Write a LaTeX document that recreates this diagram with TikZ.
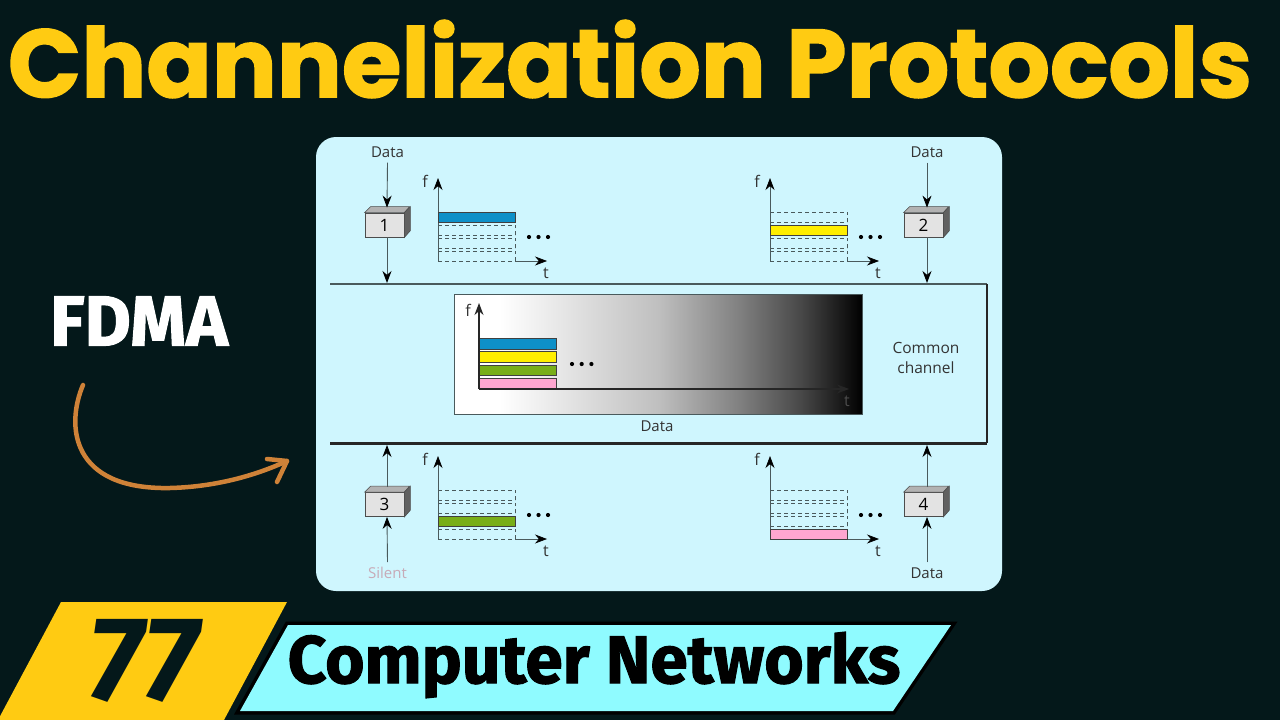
\documentclass[tikz,border=0pt]{standalone}
\usepackage{fontspec}
\setmainfont{Open Sans}
\newfontfamily\titlefont[BoldFeatures={FakeBold=1.5}]{Poppins}
\newfontfamily\bannerfont[BoldFeatures={FakeBold=1.5}]{Fira Sans}
\usepackage{xcolor}
\usetikzlibrary{calc,positioning,arrows.meta}
\definecolor{bgdark}{HTML}{04181A}
\definecolor{titleyellow}{HTML}{FFCB12}
\definecolor{panelblue}{HTML}{CFF6FE}
\definecolor{bannercyan}{HTML}{8FFBFF}
\definecolor{slotblue}{HTML}{0E90C8}
\definecolor{slotyellow}{HTML}{FFEE00}
\definecolor{slotgreen}{HTML}{78AE18}
\definecolor{slotpink}{HTML}{FFA6D0}
\definecolor{linegrey}{HTML}{4A5A5C}
\definecolor{curveorange}{HTML}{CF8238}
\pgfdeclarehorizontalshading{fadeblack}{100bp}{
  color(0bp)=(white); color(30.5bp)=(white); color(50bp)=(black!25);
  color(60bp)=(black!50); color(67.5bp)=(black!72); color(75bp)=(black); color(100bp)=(black)}
\tikzset{
  sigarrow/.style={-{Stealth[length=12pt,width=9pt,black]},line width=0.9pt,draw=linegrey},
  axisarrow/.style={-{Stealth[length=12pt,width=9pt,black]},line width=0.7pt,draw=linegrey},
  slotdash/.style={dashed,dash pattern=on 4pt off 3pt,line width=0.8pt,draw=linegrey},
  slotbar/.style={draw=black!75,line width=0.9pt},
  smalltxt/.style={font=\fontsize{15}{15}\selectfont,text=black!80,inner sep=0pt},
  axistxt/.style={font=\fontsize{16}{16}\selectfont,text=black!80,inner sep=0pt},
  stationbox/.style={draw=black!70,line width=0.8pt,fill=black!11,minimum width=39pt,minimum height=24pt,inner sep=0pt,font=\fontsize{17}{17}\selectfont}
}
% station box with its top and side faces
\newcommand{\station}[4]{
  \node[stationbox] (#1) at (#2,#3) {#4};
  \draw[draw=black!70,fill=black!30,line width=0.6pt] (#1.north west)--++(6,-6)--++(39,0)--(#1.north east)--cycle;
  \draw[draw=black!70,fill=black!62,line width=0.6pt] (#1.north east)--++(6,-6)--++(0,24)--(#1.south east)--cycle;
}
% small time/frequency chart, #1 name #2 x of axis #3 y of axis #4 colour #5 slot
\newcommand{\slotchart}[5]{
  \coordinate (#1o) at (#2,#3);
  \coordinate (#1y) at (#2,#3-83);
  \coordinate (#1x) at (#2+109,#3);
  \draw[axisarrow] (#1o) -- (#1y);
  \draw[axisarrow] ($(#1o)+(77,0)$) -- (#1x);
  \node[axistxt] (#1f) at (#2-13,#3-80) {f};
  \node[axistxt] (#1t) at (#2+108,#3+12) {t};
  \foreach \k in {0,1,2,3}{
    \draw[slotdash] ($(#1o)+(0,-10-13*\k)$) -- ++(77,0);
    \draw[slotdash] ($(#1o)+(0,-13*\k)$) -- ++(77,0);
    \draw[slotdash] ($(#1o)+(77,-13*\k)$) -- ++(0,-10);
  }
  \draw[slotbar,fill=#4] ($(#1o)+(0,-39+13*#5)$) rectangle ++(77,-10);
  \foreach \k in {0,1,2}
    \fill[black] ($(#1o)+(91+9.5*\k,-24)$) circle (2.1pt);
}
\begin{document}
\begin{tikzpicture}[x=1pt,y=-1pt]
	\useasboundingbox (0,0) rectangle (1280,720);
	\fill[bgdark] (0,0) rectangle (1280,720);
	\node[text=titleyellow,font=\titlefont\bfseries\fontsize{96.5}{96.5}\selectfont,inner sep=0pt] (title) at (630,59) {Channelization Protocols};
	\node[text=white,font=\bannerfont\bfseries\fontsize{71}{71}\selectfont,inner sep=0pt] (fdma) at (139,321) {FDMA};
	\coordinate (curvestart) at (83,385);
	\coordinate (curveend) at (287,461);
	\draw[line width=4.5pt,line cap=round,line join=round,draw=curveorange] (curvestart) .. controls (66,425) and (70,490) .. (170,488) .. controls (210,487) and (250,478) .. (curveend);
	\draw[line width=4.5pt,line cap=round,line join=round,draw=curveorange] (267,459) -- (curveend) -- (277,482);
	%panel
	\fill[panelblue,rounded corners=20pt] (316,137) rectangle (1002,591);
	\coordinate (chnw) at (330,284);
	\coordinate (chne) at (987,284);
	\coordinate (chsw) at (330,443);
	\coordinate (chse) at (987,443);
	\draw[line width=1.2pt,draw=linegrey] (chnw) -- (chne);
	\draw[line width=2.5pt,draw=black!85] (chne) -- (chse);
	\draw[line width=3pt,draw=black!85] (chsw) -- (chse);
	\node[smalltxt,align=center,font=\fontsize{15.5}{20}\selectfont] (common) at (926,358) {Common\\channel};
	%stations
	\station{st1}{384.5}{225}{1}
	\station{st2}{923.5}{225}{2}
	\station{st3}{384.5}{504.5}{3}
	\station{st4}{923.5}{504.5}{4}
	\node[smalltxt] (data1) at (387.5,152) {Data};
	\node[smalltxt] (data2) at (927,152) {Data};
	\node[smalltxt,text=slotpink!60!black!55] (silent) at (387.5,573) {Silent};
	\node[smalltxt] (data4) at (927,573) {Data};
	\coordinate (ch1) at (387,283);
	\coordinate (ch2) at (927,283);
	\coordinate (ch3) at (387,445);
	\coordinate (ch4) at (927,445);
	\draw[sigarrow] (data1.south)++(0,5) -- ($(st1.north)+(2.5,-5)$);
	\draw[sigarrow] ($(st1.south)+(2.5,0)$) -- (ch1);
	\draw[sigarrow] (data2.south)++(0,5) -- ($(st2.north)+(3.5,-5)$);
	\draw[sigarrow] ($(st2.south)+(3.5,0)$) -- (ch2);
	\draw[sigarrow] ($(st3.north)+(2.5,-5)$) -- (ch3);
	\draw[sigarrow] (silent.north)++(0,-5) -- ($(st3.south)+(2.5,0)$);
	\draw[sigarrow] ($(st4.north)+(3.5,-5)$) -- (ch4);
	\draw[sigarrow] (data4.north)++(0,-5) -- ($(st4.south)+(3.5,0)$);
	%charts
	\slotchart{ca}{438}{261}{slotblue}{0}
	\slotchart{cb}{770}{261}{slotyellow}{1}
	\slotchart{cc}{438}{539}{slotgreen}{2}
	\slotchart{cd}{770}{539}{slotpink}{3}
	%common channel picture
	\node[draw=linegrey,line width=0.9pt,minimum width=408pt,minimum height=120pt,inner sep=0pt,shading=fadeblack,anchor=north west] (grad) at (454,294) {};
	\coordinate (mo) at (479,389);
	\coordinate (my) at (479,303);
	\coordinate (mx) at (849,389);
	\foreach \c/\s in {slotblue/3,slotyellow/2,slotgreen/1,slotpink/0}
		\draw[slotbar,fill=\c] ($(mo)+(0,-13.3*\s)$) rectangle ++(77,-10.5);
	\draw[line width=1.3pt,-{Stealth[length=12pt,width=9pt]},draw=black!85] (mo) -- (my);
	\draw[line width=1.3pt,-{Stealth[length=12pt,width=9pt]},draw=black!85] (mo) -- (mx);
	\node[axistxt] (mf) at (468,310) {f};
	\node[axistxt,text=black!70] (mt) at (847,401) {t};
	\foreach \k in {0,1,2}
		\fill[black] ($(mo)+(93+9.7*\k,-25)$) circle (2.1pt);
	\node[smalltxt] (mdata) at (657,426) {Data};
	%bottom banner
	\fill[titleyellow] (61,602) -- (287,602) -- (224,720) -- (-2,720) -- cycle;
	\node[text=bgdark,font=\bannerfont\bfseries\fontsize{120}{120}\selectfont,inner sep=0pt] (num) at (146,661) {\textit{77}};
	\draw[black,line width=7pt,line join=miter] (288,625) -- (951,625) -- (893,711) -- (240,711) -- cycle;
	\fill[bannercyan] (288,625) -- (951,625) -- (893,711) -- (240,711) -- cycle;
	\node[text=black,font=\bannerfont\bfseries\fontsize{67.5}{67.5}\selectfont,inner sep=0pt] (net) at (594,665) {Computer Networks};
\end{tikzpicture}
\end{document}
